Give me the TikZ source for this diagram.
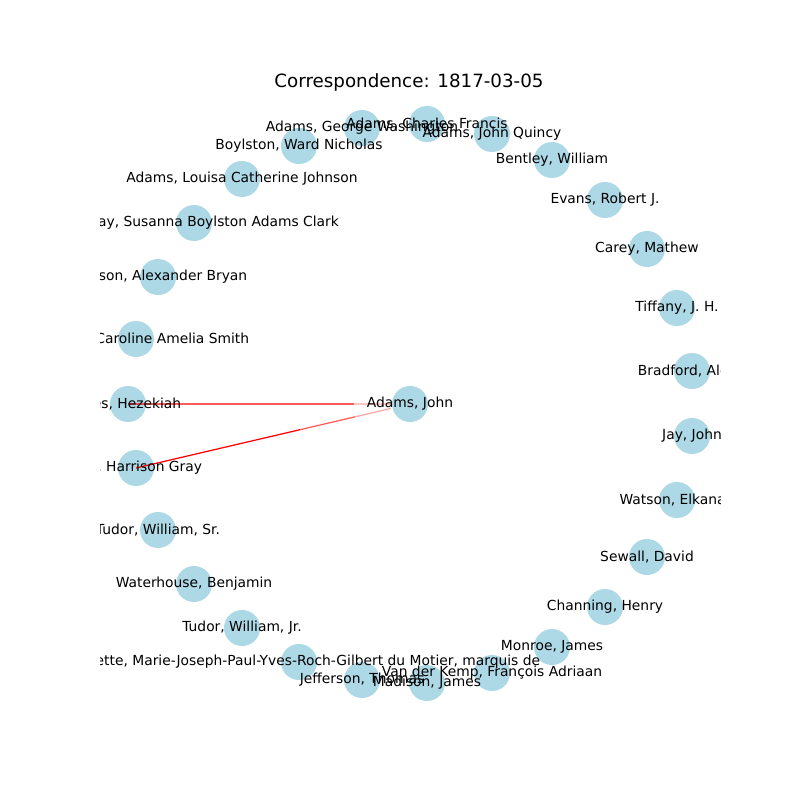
\documentclass[tikz,border=0pt]{standalone}
\usepackage{fontspec}
\setmainfont{DejaVu Sans}
\usetikzlibrary{calc}
\begin{document}
\begin{tikzpicture}[x=0.01in,y=-0.01in,
  person/.style={circle,fill={rgb,255:red,173;green,216;blue,230},minimum size=0.36in,inner sep=0pt},
  personlabel/.style={font=\fontsize{10pt}{12pt}\selectfont,inner sep=0pt},
  letter/.style={draw=red,line width=0.9pt}]
\useasboundingbox (0,0) rectangle (800,800);
\node at (409,82) [font=\fontsize{13.2pt}{15pt}\selectfont] {Correspondence: 1817-03-05};

\begin{scope}
\clip (100,0) rectangle (720,800);
% people round the circle, and the one in the middle
\foreach \x/\y/\n in {
  410/404/adamsj, 427/124/adamscf, 362/128/adamsgw, 492/134/adamsjq,
  299/146/boylston, 552/160/bentley, 242/179/adamslc, 605/200/evans,
  194/223/clark, 647/249/carey, 158/277/johnson, 677/308/tiffany,
  136/339/dewindt, 692/371/bradford, 128/404/niles, 692/436/jay,
  136/468/otis, 677/500/watson, 158/530/tudorsr, 647/557/sewall,
  194/584/waterhouse, 605/607/channing, 242/628/tudorjr, 552/647/monroe,
  299/662/lafayette, 492/673/vanderkemp, 362/680/jefferson, 427/683/madison} {
    \node (\n) at (\x,\y) [person] {};
}
% letters
\coordinate (nilesmid) at ($(niles)!0.6!(adamsj)$);
\coordinate (nilesend) at ($(niles)!0.8!(adamsj)$);
\coordinate (otismid) at ($(otis)!0.6!(adamsj)$);
\coordinate (otisend) at ($(otis)!0.8!(adamsj)$);
\draw [letter] (niles.center) -- (nilesmid);
\draw [letter,draw=red!65] (nilesmid) -- (nilesend);
\draw [letter,draw=red!35] (nilesend) -- (adamsj.west);
\draw [letter] (otis.center) -- (otismid);
\draw [letter,draw=red!65] (otismid) -- (otisend);
\draw [letter,draw=red!35] (otisend) -- ($(adamsj.center)!0.07!(otis)$);
% names
\foreach \x/\y/\t in {
  410/404/{Adams, John},
  427/124/{Adams, Charles Francis},
  362/128/{Adams, George Washington},
  492/134/{Adams, John Quincy},
  299/146/{Boylston, Ward Nicholas},
  552/160/{Bentley, William},
  242/179/{Adams, Louisa Catherine Johnson},
  605/200/{Evans, Robert J.},
  194/223/{Treadway, Susanna Boylston Adams Clark},
  647/249/{Carey, Mathew},
  158/277/{Johnson, Alexander Bryan},
  677/308/{Tiffany, J. H.},
  136/339/{De Windt, Caroline Amelia Smith},
  692/371/{Bradford, Alden},
  128/404/{Niles, Hezekiah},
  692/436/{Jay, John},
  136/468/{Otis, Harrison Gray},
  677/500/{Watson, Elkanah},
  158/530/{Tudor, William, Sr.},
  647/557/{Sewall, David},
  194/584/{Waterhouse, Benjamin},
  605/607/{Channing, Henry},
  242/628/{Tudor, William, Jr.},
  552/647/{Monroe, James},
  299/662/{Lafayette, Marie-Joseph-Paul-Yves-Roch-Gilbert du Motier, marquis de},
  492/673/{Van der Kemp, François Adriaan},
  362/680/{Jefferson, Thomas},
  427/683/{Madison, James}} {
    \node at (\x,\y) [personlabel] {\t};
}
\end{scope}
\end{tikzpicture}
\end{document}
